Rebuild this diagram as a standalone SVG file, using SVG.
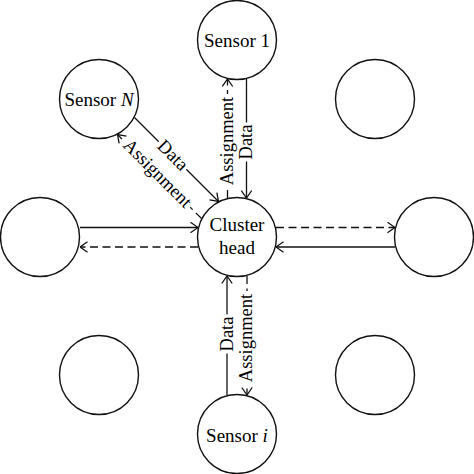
<svg xmlns="http://www.w3.org/2000/svg" width="474" height="474" viewBox="0 0 474 474">
<defs>
<style>
.node{fill:#fff;stroke:#111;stroke-width:1.4}
.lbl{font-family:"Liberation Serif","Times New Roman",serif;font-size:19px;fill:#000;text-anchor:middle}
.elbl{font-family:"Liberation Serif","Times New Roman",serif;font-size:18.5px;fill:#000;text-anchor:middle}
.ln{fill:none;stroke:#111;stroke-width:1.3}
.dash{stroke-dasharray:8 4.5}
.bg{fill:#fff;stroke:none}
</style>
<marker id="ah" viewBox="0 0 9 12" refX="8.5" refY="6" markerWidth="9" markerHeight="12" markerUnits="userSpaceOnUse" orient="auto">
<path d="M1,0.8 L8.5,6 L1,11.2" fill="none" stroke="#111" stroke-width="1.3"/>
</marker>
</defs>
<rect width="474" height="474" fill="#fff"/>
<g id="connectors">
<line class="ln" x1="80" y1="227.5" x2="198" y2="227.5" marker-end="url(#ah)"/>
<line class="ln dash" x1="198" y1="247" x2="80" y2="247" marker-end="url(#ah)"/>
<line class="ln dash" x1="276" y1="227.5" x2="395" y2="227.5" marker-end="url(#ah)"/>
<line class="ln" x1="395" y1="247" x2="276" y2="247" marker-end="url(#ah)"/>
<line class="ln dash" x1="227.5" y1="198" x2="227.5" y2="79" marker-end="url(#ah)"/>
<line class="ln" x1="246.5" y1="79" x2="246.5" y2="198" marker-end="url(#ah)"/>
<g transform="translate(227.5,141) rotate(-90)"><rect class="bg" x="-47" y="-9" width="94" height="17"/><text class="elbl" y="5">Assignment</text></g>
<g transform="translate(246.5,142) rotate(-90)"><rect class="bg" x="-19.5" y="-8" width="39" height="16"/><text class="elbl" y="5.5">Data</text></g>
<line class="ln" x1="227" y1="395" x2="227" y2="276" marker-end="url(#ah)"/>
<line class="ln dash" x1="247" y1="276" x2="247" y2="395" marker-end="url(#ah)"/>
<g transform="translate(227,334) rotate(-90)"><rect class="bg" x="-19.5" y="-8" width="39" height="16"/><text class="elbl" y="5.5">Data</text></g>
<g transform="translate(247,338) rotate(-90)"><rect class="bg" x="-47" y="-9" width="94" height="17"/><text class="elbl" y="5">Assignment</text></g>
<line class="ln" x1="134.5" y1="117.5" x2="218.5" y2="201.5" marker-end="url(#ah)"/>
<line class="ln dash" x1="201.5" y1="218.5" x2="117.5" y2="134.5" marker-end="url(#ah)"/>
<g transform="translate(172.5,155.5) rotate(45)"><rect class="bg" x="-19.5" y="-8" width="39" height="16"/><text class="elbl" y="5.5">Data</text></g>
<g transform="translate(157,174) rotate(45)"><rect class="bg" x="-47" y="-9" width="94" height="17"/><text class="elbl" y="5">Assignment</text></g>
</g>
<g id="sensor1"><circle class="node" cx="237" cy="40" r="39.5"/><text class="lbl" x="237" y="47">Sensor 1</text></g>
<g id="sensorN"><circle class="node" cx="99" cy="99" r="39.5"/><text class="lbl" x="99" y="106">Sensor <tspan font-style="italic">N</tspan></text></g>
<g id="nodeTR"><circle class="node" cx="375" cy="99" r="39.5"/></g>
<g id="nodeL"><circle class="node" cx="40" cy="237" r="39.5"/></g>
<g id="cluster"><circle class="node" cx="237" cy="237" r="39.5"/><text class="lbl" x="237" y="231">Cluster</text><text class="lbl" x="237" y="254">head</text></g>
<g id="nodeR"><circle class="node" cx="434" cy="237" r="39.5"/></g>
<g id="nodeBL"><circle class="node" cx="99" cy="375" r="39.5"/></g>
<g id="nodeBR"><circle class="node" cx="375" cy="375" r="39.5"/></g>
<g id="sensorI"><circle class="node" cx="237" cy="434" r="39.5"/><text class="lbl" x="237" y="442">Sensor <tspan font-style="italic">i</tspan></text></g>
</svg>
